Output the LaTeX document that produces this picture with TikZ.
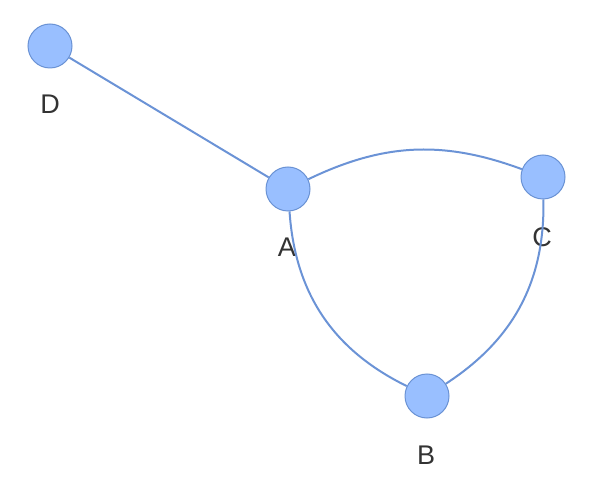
\documentclass[tikz,border=0pt]{standalone}
\usepackage{fontspec}
\setmainfont{Liberation Sans}
\definecolor{nodefill}{HTML}{99BFFF}
\definecolor{nodeedge}{HTML}{6A92D4}
\definecolor{linkcol}{HTML}{6B93D6}
\definecolor{labcol}{HTML}{333333}
\begin{document}
\begin{tikzpicture}[x=1pt,y=-1pt,
  vert/.style={circle,draw=nodeedge,fill=nodefill,line width=1pt,minimum size=44pt,inner sep=0pt},
  lab/.style={text=labcol,font=\fontsize{27}{27}\selectfont},
  link/.style={draw=linkcol,line width=2pt}]
\useasboundingbox (0,0) rectangle (589,494);
\node[vert] (D) at (50,46) {};
\node[vert] (A) at (288,189) {};
\node[vert] (C) at (543,177) {};
\node[vert] (B) at (427,396) {};
\node[lab] (Dl) at (50,104) {D};
\node[lab] (Al) at (287,247) {A};
\node[lab] (Cl) at (542,237) {C};
\node[lab] (Bl) at (426,455) {B};
\draw[link] (D) -- (A);
\draw[link] (A) to[bend left=23] (C);
\draw[link] (A) to[bend right=30] (B);
\draw[link] (B) to[bend right=29] (C);
\end{tikzpicture}
\end{document}
